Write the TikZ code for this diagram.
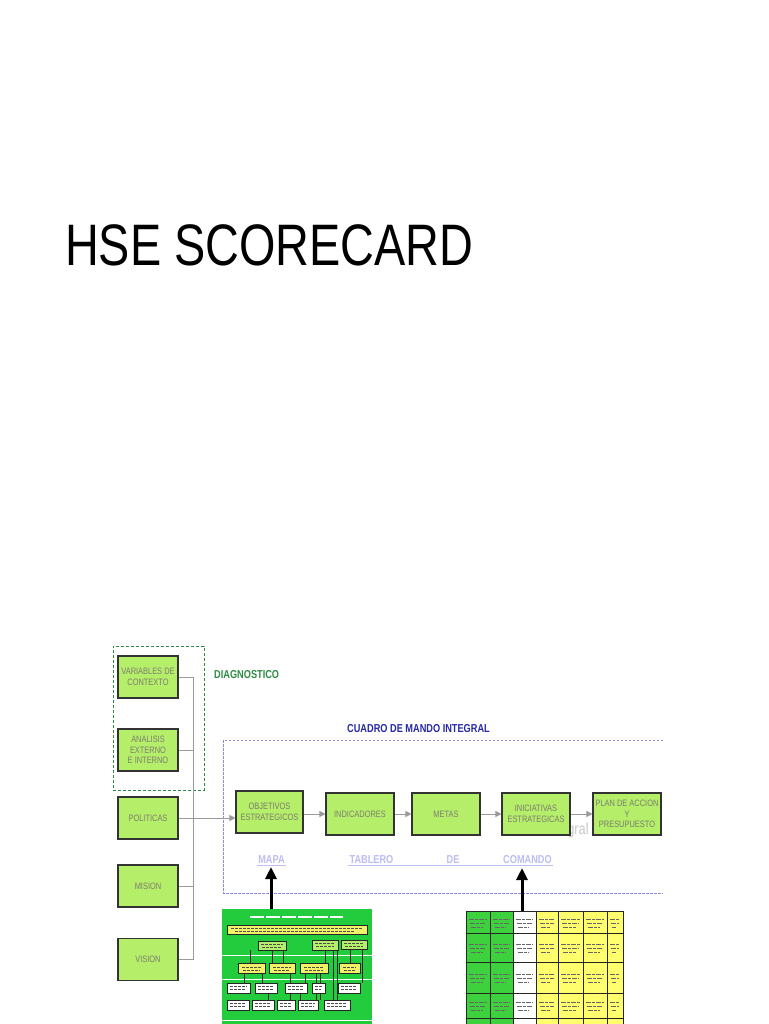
\documentclass[tikz,border=0pt]{standalone}
\usepackage{fontspec}
\setmainfont{Liberation Sans}[FakeStretch=0.8]
\usetikzlibrary{arrows.meta}
\definecolor{boxgreen}{HTML}{B5EE68}
\definecolor{boxtext}{HTML}{7C7C74}
\definecolor{linegray}{HTML}{9A9A9A}
\definecolor{diaggreen}{HTML}{2E8B45}
\definecolor{cmiblue}{HTML}{2828A8}
\definecolor{framblue}{HTML}{8C8CD8}
\definecolor{lav}{HTML}{BDBDF2}
\definecolor{mapgreen}{HTML}{22CC3C}
\definecolor{mapyellow}{HTML}{F2F266}
\definecolor{tgreen}{HTML}{3DD13D}
\definecolor{tyellow}{HTML}{FFFF6E}
\definecolor{graltext}{HTML}{C8C8C8}
\tikzset{
  box/.style={draw=black!80, line width=1.1pt, fill=boxgreen, minimum width=60pt,
    minimum height=42pt, inner sep=1pt, align=center, text=boxtext,
    font=\fontsize{9.3}{10.6}\selectfont},
  pbox/.style={box, minimum width=68pt},
  conn/.style={draw=linegray, line width=0.8pt},
  arr/.style={conn, -{Triangle[length=6pt,width=6pt]}},
  bigarr/.style={draw=black, line width=3pt, -{Triangle[length=12pt,width=11pt]}},
  lbl/.style={font=\bfseries\fontsize{11.5}{12}\selectfont, text=lav, inner sep=1pt},
  head/.style={font=\bfseries\fontsize{11.5}{12}\selectfont, inner sep=0pt, anchor=west},
  mini/.style={draw=black!85, line width=0.5pt},
  filler/.style={draw=black!70, line width=0.6pt, dash pattern=on 3pt off 1pt},
  tfill/.style={draw=black!60, line width=0.7pt, dash pattern=on 5pt off 1pt on 3pt off 1pt},
}
\begin{document}
\begin{tikzpicture}[x=1pt,y=-1pt]
\useasboundingbox[fill=white] (0,0) rectangle (768,1024);

% title
\node[anchor=base west, font=\fontsize{58.5}{60}\selectfont, inner sep=0pt] (title) at (65,265) {HSE SCORECARD};

% diagnostic frame
\node[draw=diaggreen, line width=0.9pt, dash pattern=on 3pt off 2pt, minimum width=91pt, minimum height=144pt, inner sep=0pt] (diagframe) at (158.5,718) {};
\node[head, text=diaggreen] (diag) at (214,675) {DIAGNOSTICO};

% cuadro de mando frame (open on the right)
\coordinate (cf1) at (663,740);
\coordinate (cf2) at (223,740);
\coordinate (cf3) at (223,893);
\coordinate (cf4) at (663,893);
\draw[draw=framblue, line width=0.8pt, dash pattern=on 2.5pt off 1.5pt] (cf1) -- (cf2) -- (cf3) -- (cf4);
\node[head, text=cmiblue] (cmi) at (347,729) {CUADRO DE MANDO INTEGRAL};

% faded watermark
\node[font=\fontsize{16}{17}\selectfont, text=graltext, inner sep=0pt] (gral) at (578,830) {gral};

% left boxes
\node[box] (var) at (148,677) {VARIABLES DE\\CONTEXTO};
\node[box] (ana) at (148,750) {ANALISIS\\EXTERNO\\E INTERNO};
\node[box] (pol) at (148,818) {POLITICAS};
\node[box] (mis) at (148,886) {MISION};
\node[box] (vis) at (148,959.5) {VISION};

% process boxes
\node[pbox, minimum width=67pt] (obj) at (269.5,812) {OBJETIVOS\\ESTRATEGICOS};
\node[pbox] (ind) at (360,814) {INDICADORES};
\node[pbox] (met) at (446,814) {METAS};
\node[pbox] (ini) at (536,814) {INICIATIVAS\\ESTRATEGICAS};
\node[pbox] (plan) at (627,814) {PLAN DE ACCION\\Y\\PRESUPUESTO};

% bus connector
\coordinate (bt) at (193,677);
\coordinate (bb) at (193,959.5);
\draw[conn] (var.east) -- (bt) -- (bb) -- (vis.east);
\draw[conn] (ana.east) -- (ana.east -| bt);
\draw[conn] (mis.east) -- (mis.east -| bt);
\draw[arr] (pol.east) -- (pol.east -| obj.west);

% process arrows
\draw[arr] (obj.east |- ind.west) -- (ind.west);
\draw[arr] (ind.east) -- (met.west);
\draw[arr] (met.east) -- (ini.west);
\draw[arr] (ini.east) -- (plan.west);

% link labels
\node[lbl] (mapa) at (271.5,860) {MAPA};
\node[lbl] (tab) at (371.5,860) {TABLERO};
\node[lbl] (de) at (453,860) {DE};
\node[lbl] (com) at (527.5,860) {COMANDO};
\draw[lav, line width=1.3pt] (mapa.south west) -- (mapa.south east);
\draw[lav, line width=1.3pt] (tab.south west) -- (com.south east);

% map thumbnail
\node[fill=mapgreen, minimum width=150pt, minimum height=115pt, inner sep=0pt, anchor=north west] (mapimg) at (222,909) {};
\draw[white, line width=1.4pt, dash pattern=on 14pt off 2pt] (250,917) -- (343,917);
\draw[mini, fill=mapyellow] (227,925) rectangle (367,934);
\draw[filler] (231,928) -- (363,928);
\draw[filler] (235,931.5) -- (355,931.5);
\draw[white, line width=0.8pt] (222,955) -- (372,955);
\draw[white, line width=0.8pt] (222,979) -- (372,979);
\draw[white, line width=0.8pt] (222,1020) -- (372,1020);
% connectors in map
\foreach \xa/\ya/\yb in {272/950/963, 250/950/963, 283/950/963, 325/950/963, 333/949/1000, 337/949/1000, 350/949/963, 362/949/983, 244/973/983, 262/973/983, 290/973/1000, 305/973/983, 316/973/1000, 320/973/1000, 268/993/1000, 300/993/1000}
  \draw[black!85, line width=0.5pt] (\xa,\ya) -- (\xa,\yb);
\foreach \xa/\ya/\xb/\yb in {258/941/286/950, 312/940/338/950, 341/940/367/949}{
  \draw[mini, fill=boxgreen] (\xa,\ya) rectangle (\xb,\yb);
  \draw[filler, line width=0.5pt] (\xa+3,\ya+3.5) -- (\xb-3,\ya+3.5);
  \draw[filler, line width=0.5pt] (\xa+4,\ya+6.5) -- (\xb-4,\ya+6.5);
}
\foreach \xa/\ya/\xb/\yb in {238/963/265/973, 269/963/295/973, 300/963/328/973, 339/963/360/973}{
  \draw[mini, fill=mapyellow] (\xa,\ya) rectangle (\xb,\yb);
  \draw[filler, line width=0.5pt] (\xa+4,\ya+4) -- (\xb-4,\ya+4);
  \draw[filler, line width=0.5pt] (\xa+5,\ya+7) -- (\xb-5,\ya+7);
}
\foreach \xa/\ya/\xb/\yb in {227/983/250/993, 255/983/277/993, 285/983/307/993, 312/983/325/993, 338/983/360/993, 227/1000/249/1010, 252/1000/274/1010, 277/1000/295/1010, 298/1000/318/1010, 324/1000/350/1010}{
  \draw[mini, fill=white] (\xa,\ya) rectangle (\xb,\yb);
  \draw[filler, line width=0.5pt] (\xa+3,\ya+3.5) -- (\xb-3,\ya+3.5);
  \draw[filler, line width=0.5pt] (\xa+3,\ya+6.5) -- (\xb-4,\ya+6.5);
}

% table thumbnail
\node[minimum width=157pt, minimum height=113pt, inner sep=0pt, anchor=north west] (tabimg) at (466,911) {};
\foreach \xa/\xb/\c in {466/490/tgreen, 490/513/tgreen, 513/536/white, 536/558/tyellow, 558/583/tyellow, 583/607/tyellow, 607/623/tyellow}
  \fill[\c] (\xa,911) rectangle (\xb,1024);
\foreach \xa/\xb in {466/490, 490/513, 513/536, 536/558, 558/583, 583/607, 607/623}{
  \foreach \ya/\yb in {911/933, 933/962, 962/993, 993/1018}{
    \draw[tfill] (\xa+3,{(\ya+\yb)/2-3}) -- (\xb-3,{(\ya+\yb)/2-3});
    \draw[tfill] (\xa+4,{(\ya+\yb)/2+1}) -- (\xb-4,{(\ya+\yb)/2+1});
    \draw[tfill] (\xa+5,{(\ya+\yb)/2+5}) -- (\xb-7,{(\ya+\yb)/2+5});
  }
}
\foreach \xx in {466,490,513,536,558,583,607,623}
  \draw[black!85, line width=0.6pt] (\xx,911) -- (\xx,1024);
\foreach \yy in {911,933,962,993,1018}
  \draw[black!85, line width=0.6pt] (466,\yy) -- (623,\yy);

% big black arrows
\coordinate (mapaT) at (271,867);
\coordinate (comT) at (522,868);
\draw[bigarr] (mapimg.north -| mapaT) -- (mapaT);
\draw[bigarr] (tabimg.north -| comT) -- (comT);
\end{tikzpicture}
\end{document}
